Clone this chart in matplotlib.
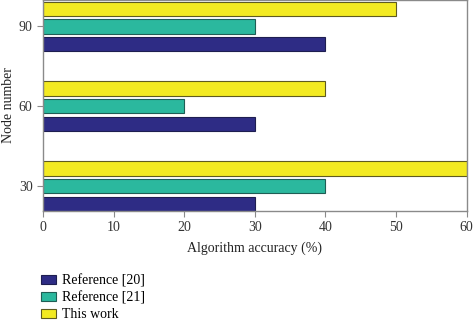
import matplotlib
matplotlib.use("Agg")
import matplotlib.pyplot as plt
import numpy as np

nodes = ["30", "60", "90"]
ref20 = [30, 30, 40]
ref21 = [40, 20, 30]
this_work = [60, 40, 50]
series_labels = ["Reference [20]", "Reference [21]", "This work"]
colors = ["#2e2c85", "#2bb89e", "#f3ea22"]
edges = ["#1e1e50", "#1f5e55", "#5e5a20"]

plt.rcParams['font.family'] = ['Liberation Serif', 'DejaVu Serif']

fig = plt.figure(figsize=(4.74, 3.21), dpi=100)
ax = fig.add_axes([0.0907, 0.343, 0.894, 0.657])

y = np.arange(len(nodes))
step = 0.22
h = 0.18
for i, (vals, lab, c, ec) in enumerate(zip([ref20, ref21, this_work], series_labels, colors, edges)):
    ax.barh(y + (i - 1) * step, vals, height=h, color=c, edgecolor=ec, linewidth=0.8, label=lab)

ax.set_xlim(0, 60)
ax.set_ylim(-0.31, 2.33)
ax.set_yticks(y)
ax.set_yticklabels(nodes)
ax.set_xticks(range(0, 61, 10))
for s in ax.spines.values():
    s.set_color("#8a8a8a")
    s.set_linewidth(1.0)
ax.tick_params(colors="#333333", labelsize=10, length=4, color="#8a8a8a")
ax.set_xlabel("Algorithm accuracy (%)", fontsize=10, color="#222222", labelpad=5)
ax.set_ylabel("Node number", fontsize=10, color="#222222", labelpad=3)

handles, labels = ax.get_legend_handles_labels()
fig.legend(handles, labels, loc="lower left", bbox_to_anchor=(0.06, -0.04), frameon=False,
           fontsize=10, handlelength=1.1, handleheight=0.6, labelspacing=0.28, handletextpad=0.4)

fig.savefig("out.png", dpi=100)
